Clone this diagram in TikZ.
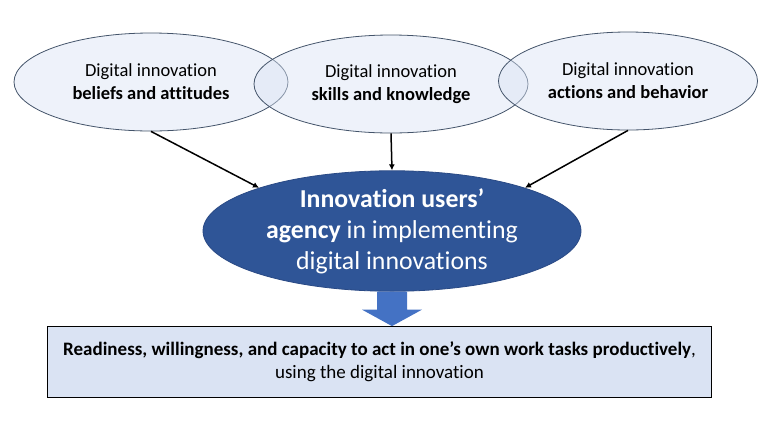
\documentclass[tikz,border=0pt]{standalone}
\usepackage{fontspec}
\setmainfont{Carlito}[Ligatures=NoCommon]
\usetikzlibrary{shapes.geometric,arrows.meta,calc}
\definecolor{ellfill}{HTML}{DAE3F3}
\definecolor{ellborder}{HTML}{44546A}
\definecolor{centerfill}{HTML}{2F5597}
\definecolor{centerborder}{HTML}{2A4A85}
\definecolor{blockarrow}{HTML}{4472C4}
\definecolor{boxfill}{HTML}{DAE3F3}
\tikzset{
  x=1pt, y=-1pt,
  topell/.style={ellipse, draw=ellborder, line width=0.8pt, fill=ellfill, fill opacity=0.45, text opacity=1, inner sep=0pt, align=center, font=\fontsize{18.5}{23}\selectfont},
  centerell/.style={ellipse, draw=centerborder, line width=0.8pt, fill=centerfill, text=white, inner sep=0pt, align=center, minimum width=378pt, minimum height=118pt, font=\fontsize{25.8}{31}\selectfont},
  conn/.style={line width=1.5pt, -{Latex[length=6pt,width=6pt]}},
  resultbox/.style={rectangle, draw=black, line width=0.8pt, fill=boxfill, inner sep=0pt, align=center, minimum width=664pt, minimum height=71pt, font=\fontsize{19}{23}\selectfont}
}
\begin{document}
\begin{tikzpicture}
\useasboundingbox (0,0) rectangle (783,432);
\node[topell, minimum width=274pt, minimum height=98pt] (e1) at (151,82) {Digital innovation\\\textbf{beliefs and attitudes}};
\node[topell, minimum width=274pt, minimum height=98pt] (e2) at (391,84) {Digital innovation\\\textbf{skills and knowledge}};
\node[topell, minimum width=259pt, minimum height=98pt] (e3) at (628,81) {Digital innovation\\\textbf{actions and behavior}};
\node[centerell] (c) at (392,231) {\textbf{Innovation users’}\\\textbf{agency} in implementing\\digital innovations};
\node[resultbox] (r) at (379.5,362) {\textbf{Readiness, willingness, and capacity to act in one’s own work tasks productively},\\using the digital innovation};
\draw[conn] (e1.south) -- (c.162);
\draw[conn] (e2.south) -- (c.north);
\draw[conn] (e3.south) -- (c.18);
\fill[blockarrow] ($(c.south)+(-15,0)$) -- ($(c.south)+(15,0)$) -- ($(c.south)+(15,18)$) -- ($(c.south)+(30,18)$) -- (c.south |- r.north) -- ($(c.south)+(-30,18)$) -- ($(c.south)+(-15,18)$) -- cycle;
\end{tikzpicture}
\end{document}
